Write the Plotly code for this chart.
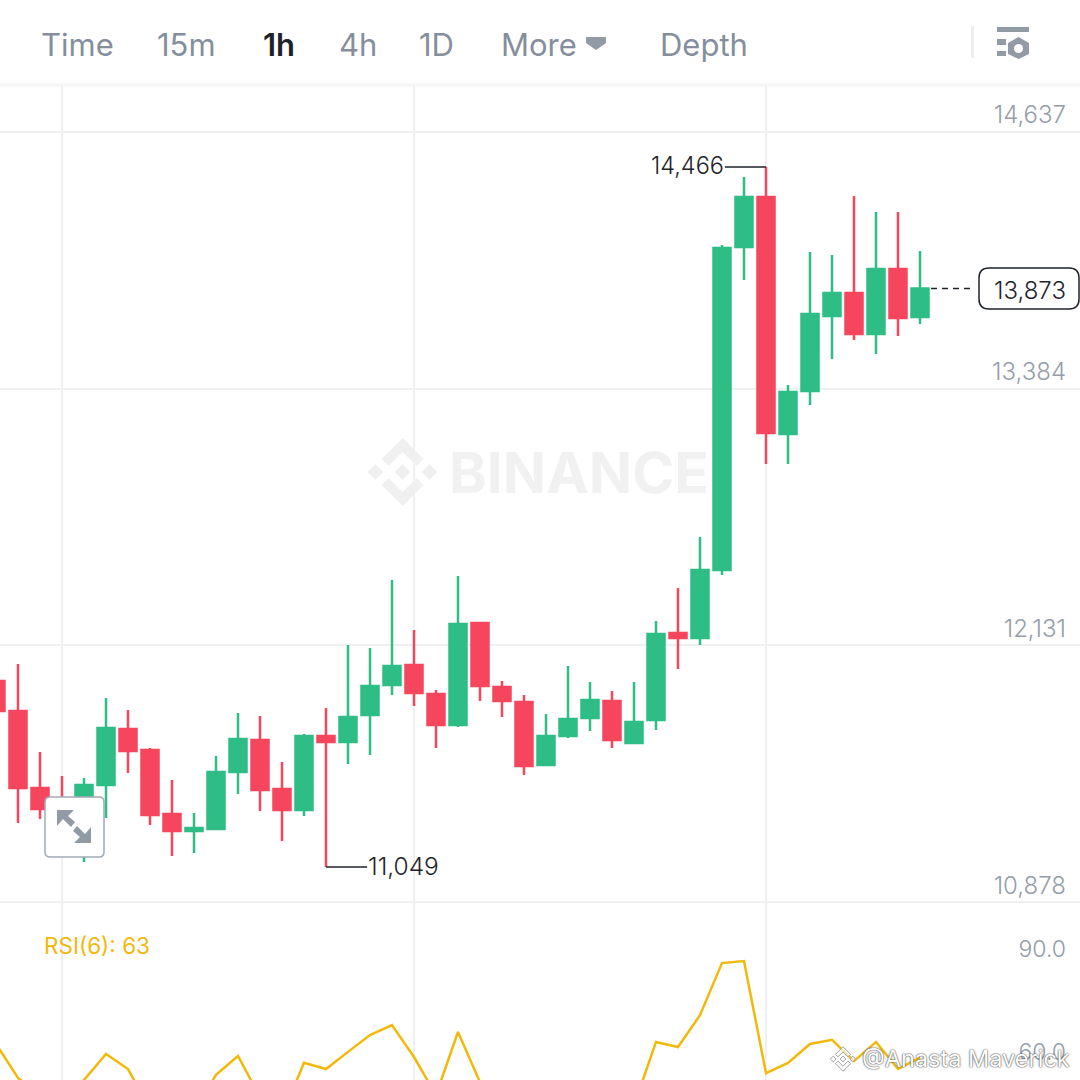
import plotly.graph_objects as go
from plotly.subplots import make_subplots

# hourly candles
opens = [11957, 11810, 11434, 11376, 11151, 11449, 11722, 11620, 11308, 11225, 11234, 11513, 11669, 11430, 11327,
         11688, 11659, 11791, 11937, 12035, 11893, 11742, 12240, 11927, 11854, 11547, 11688, 11776, 11859, 11654,
         11766, 12191, 12167, 12498, 14075, 14319, 13162, 13372, 13738, 13851, 13650, 13968, 13733]
highs = [12001, 12040, 11610, 11493, 11483, 11874, 11815, 11630, 11473, 11312, 11591, 11801, 11786, 11561, 11698,
         11825, 12132, 12118, 12450, 12206, 11913, 12469, 12240, 11957, 11888, 11796, 12030, 11952, 11908, 11952,
         12250, 12411, 12660, 14085, 14417, 14466, 13401, 14051, 14036, 14324, 14246, 14246, 14056]
lows = [11766, 11264, 11283, 11132, 11073, 11288, 11508, 11254, 11103, 11117, 11234, 11405, 11322, 11176, 11298,
        11049, 11552, 11596, 11888, 11835, 11630, 11732, 11859, 11781, 11498, 11542, 11678, 11713, 11630, 11654,
        11718, 12015, 12132, 12474, 13914, 13016, 13016, 13304, 13528, 13621, 13553, 13641, 13699]
closes = [11810, 11434, 11332, 11151, 11449, 11727, 11615, 11303, 11225, 11239, 11513, 11674, 11425, 11327, 11688,
          11659, 11781, 11932, 12030, 11898, 11742, 12235, 11932, 11859, 11542, 11688, 11771, 11864, 11669, 11757,
          12186, 12167, 12498, 14070, 14319, 13167, 13367, 13748, 13851, 13650, 13968, 13729, 13873]
rsi6 = [67.0, 57.1, 52.1, 50.7, 56.5, 64.1, 59.7, 48.0, 46.0, 47.0, 58.0, 63.5, 51.5, 46.0, 61.5,
        59.7, 64.7, 69.6, 72.5, 63.2, 52.1, 70.5, 55.9, 52.0, 47.0, 49.0, 50.0, 52.0, 48.0, 49.0,
        67.6, 66.1, 75.4, 90.6, 91.2, 58.5, 61.5, 67.0, 68.2, 62.0, 67.6, 59.7, 63.0]
candle_idx = list(range(len(opens)))

price_ticks = [10878, 12131, 13384, 14637]
rsi_ticks = [60, 90]
grid_idx = [3, 19, 35]
menu_items = ["Time", "15m", "1h", "4h", "1D", "More", "Depth"]
menu_left = [39, 155, 261, 337, 417, 499, 658]

GREEN = "#2EBD85"
RED = "#F6465D"
GREY = "#848E9C"
ICON = "#929AA5"
DARK = "#1E2329"
GRID = "#EFF0F1"
FONT = "Inter"


def px(x):
    return x / 1080


def py(y):
    return 1 - y / 1080


def path(points):
    # closed polygon in picture pixels -> paper coords
    out = ""
    for i, (x, y) in enumerate(points):
        out += ("M" if i == 0 else "L") + f"{px(x):.5f},{py(y):.5f} "
    return out + "Z"


fig = make_subplots(rows=2, cols=1, shared_xaxes=True, vertical_spacing=0)

fig.add_trace(go.Candlestick(x=candle_idx, open=opens, high=highs, low=lows, close=closes,
                             whiskerwidth=0,
                             increasing=dict(line=dict(color=GREEN, width=2.5), fillcolor=GREEN),
                             decreasing=dict(line=dict(color=RED, width=2.5), fillcolor=RED),
                             hoverinfo="skip"), row=1, col=1)
fig.add_trace(go.Scatter(x=candle_idx, y=rsi6, mode="lines", line=dict(color="#F0B90B", width=2.5),
                         hoverinfo="skip"), row=2, col=1)

fig.update_xaxes(range=[4 / 22, 1084 / 22], tickvals=grid_idx, showticklabels=False, showgrid=True,
                 gridcolor=GRID, gridwidth=1.5, zeroline=False, showline=False, rangeslider_visible=False, ticks="")
fig.update_yaxes(domain=[py(902), py(86)], range=[10878, 14861], row=1, col=1, side="right",
                 tickvals=price_ticks, tickformat=",d", ticklabelposition="inside top", ticklabelstandoff=11,
                 tickfont=dict(family=FONT, size=24, color="#959DA9", weight=300), showgrid=True, gridcolor=GRID,
                 gridwidth=1.5, zeroline=False, showline=False, ticks="")
fig.update_yaxes(domain=[0, py(902)], range=[56.5, 108.4], row=2, col=1, side="right",
                 tickvals=rsi_ticks, tickformat=".1f", ticklabelposition="inside top", ticklabelstandoff=11,
                 tickfont=dict(family=FONT, size=23, color="#959DA9", weight=300), showgrid=False,
                 zeroline=False, showline=False, ticks="")

shapes = []
annotations = []


def label(x, y, text, color, size, anchor="left", weight=None, **kw):
    annotations.append(dict(x=px(x), y=py(y), xref="paper", yref="paper", text=text, showarrow=False,
                            xanchor=anchor, yanchor="middle",
                            font=dict(family=FONT, size=size, color=color, weight=weight, **kw)))


def binance_logo(cx, cy, s, **style):
    # centre diamond, two side diamonds, two chevrons
    for dx, r in [(0, 8), (-27, 8), (27, 8)]:
        shapes.append(dict(type="path", xref="paper", yref="paper", path=path(
            [(cx + s * dx, cy - s * r), (cx + s * (dx + r), cy), (cx + s * dx, cy + s * r), (cx + s * (dx - r), cy)]),
            **style))
    for sign in [-1, 1]:
        shapes.append(dict(type="path", xref="paper", yref="paper", path=path(
            [(cx, cy + sign * s * 34), (cx + s * 21, cy + sign * s * 13), (cx + s * 14, cy + sign * s * 6),
             (cx, cy + sign * s * 20), (cx - s * 14, cy + sign * s * 6), (cx - s * 21, cy + sign * s * 13)]),
            **style))


# header
for name, left in zip(menu_items, menu_left):
    label(left, 45, name, DARK if name == "1h" else GREY, 31, weight=600 if name == "1h" else 400)
shapes.append(dict(type="path", path=path([(586, 37), (606, 37), (606, 43), (596, 50), (586, 43)]),
                   xref="paper", yref="paper", fillcolor=ICON, line_width=0))
shapes.append(dict(type="line", xref="paper", yref="paper", x0=px(972.5), x1=px(972.5), y0=py(26), y1=py(58),
                   line=dict(color="#EDEEF0", width=3)))
shapes.append(dict(type="line", xref="paper", yref="paper", x0=0, x1=1, y0=py(85), y1=py(85),
                   line=dict(color="#F5F5F5", width=3)))
shapes.append(dict(type="line", xref="paper", yref="paper", x0=0, x1=1, y0=py(902), y1=py(902),
                   line=dict(color=GRID, width=2)))

# settings icon
for box in [(997, 27, 1029, 32), (997, 39, 1006, 45), (997, 51, 1006, 56)]:
    shapes.append(dict(type="rect", xref="paper", yref="paper", x0=px(box[0]), x1=px(box[2]),
                       y0=py(box[1]), y1=py(box[3]), fillcolor=ICON, line_width=0))
shapes.append(dict(type="path", path=path([(1018.5, 37), (1029, 43), (1029, 54), (1018.5, 59), (1008, 54), (1008, 43)]),
                   xref="paper", yref="paper", fillcolor=ICON, line_width=0))
shapes.append(dict(type="circle", xref="paper", yref="paper", x0=px(1014), x1=px(1023), y0=py(44), y1=py(53),
                   fillcolor="white", line_width=0))

# BINANCE watermark
label(711, 472, "BINANCE", "#F1F1F1", 57, anchor="right", weight=700)
binance_logo(402.5, 472, 1, fillcolor="rgba(0,0,0,0.06)", line_width=0, layer="below")

# high / low / last markers, hung on the data
hi_idx = highs.index(max(highs))
lo_idx = lows.index(min(lows))
shapes.append(dict(type="line", xref="x", yref="y", x0=hi_idx - 1.87, x1=hi_idx, y0=highs[hi_idx], y1=highs[hi_idx],
                   line=dict(color=DARK, width=1.5)))
shapes.append(dict(type="line", xref="x", yref="y", x0=lo_idx, x1=lo_idx + 1.87, y0=lows[lo_idx], y1=lows[lo_idx],
                   line=dict(color=DARK, width=1.5)))
label(726, 166, f"{highs[hi_idx]:,}", DARK, 23.5, anchor="right", weight=300)
label(366, 866, f"{lows[lo_idx]:,}", DARK, 24.5, weight=300)
shapes.append(dict(type="line", xref="paper", yref="y", x0=px(931), x1=px(970), y0=closes[-1], y1=closes[-1],
                   line=dict(color=DARK, width=1.5, dash="6px,5px")))
shapes.append(dict(type="path", xref="paper", yref="paper", fillcolor="white", line=dict(color=DARK, width=1.5),
                   path=f"M{px(989)},{py(268)} L{px(1069)},{py(268)} Q{px(1079)},{py(268)} {px(1079)},{py(278)} "
                        f"L{px(1079)},{py(299)} Q{px(1079)},{py(309)} {px(1069)},{py(309)} L{px(989)},{py(309)} "
                        f"Q{px(979)},{py(309)} {px(979)},{py(299)} L{px(979)},{py(278)} Q{px(979)},{py(268)} {px(989)},{py(268)} Z"))
label(1068, 290, f"{closes[-1]:,}", DARK, 24, anchor="right", weight=300)

# expand button
shapes.append(dict(type="path", xref="paper", yref="paper", fillcolor="white", line=dict(color="#A3AAB4", width=1.5),
                   path=f"M{px(50)},{py(797)} L{px(99)},{py(797)} Q{px(104)},{py(797)} {px(104)},{py(802)} "
                        f"L{px(104)},{py(852)} Q{px(104)},{py(857)} {px(99)},{py(857)} L{px(50)},{py(857)} "
                        f"Q{px(45)},{py(857)} {px(45)},{py(852)} L{px(45)},{py(802)} Q{px(45)},{py(797)} {px(50)},{py(797)} Z"))
for pts in [[(57, 810), (74, 810), (68, 816), (75, 822), (71, 827), (63, 819), (57, 826)],
            [(91, 843), (74, 843), (80, 837), (73, 831), (77, 826), (85, 834), (91, 827)]]:
    shapes.append(dict(type="path", path=path(pts), xref="paper", yref="paper", fillcolor=ICON, line_width=0))

# RSI caption
label(42, 945, f"RSI(6): {round(rsi6[-1])}", "#F0B90B", 22.5)

# repost watermark
label(860, 1058, "@Anasta Maverick", "white", 23.5, shadow="0 0 2px #444, 0 0 1px #555")
binance_logo(843, 1059, 0.36, fillcolor="rgba(255,255,255,0.7)", line=dict(color="#A0A0A0", width=1))

fig.update_layout(width=1080, height=1080, margin=dict(l=0, r=0, t=0, b=0), showlegend=False,
                  paper_bgcolor="white", plot_bgcolor="white", shapes=shapes, annotations=annotations,
                  boxgap=0.227, boxgroupgap=0)

# page margin would push the plot 8px off
fig.write_html("out.html", config={"displayModeBar": False}, post_script="document.body.style.margin='0';")
